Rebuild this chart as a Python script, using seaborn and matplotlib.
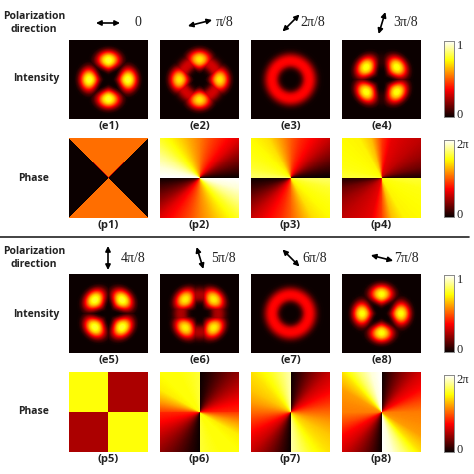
import numpy as np
import matplotlib
matplotlib.use("Agg")
import matplotlib.pyplot as plt
import seaborn as sns

sns.set_theme(style="white")
plt.rcParams['font.family'] = ['Open Sans', 'DejaVu Sans']

# ---- values ----
ring_r = [0, .1, .15, .2, .25, .3, .35, .4, .45, .5, .55, .6, .65, .7, .75, .8, .9, 1.5]
ring_v = [0, 0, .01, .05, .16, .40, .72, .93, 1, 1, .90, .68, .42, .20, .07, .02, 0, 0]
lobe_d = [0, .06, .12, .18, .24, .30, .36, .42, 3]
lobe_v = [1, .96, .82, .58, .32, .12, .02, 0, 0]
lobe_stretch = 1.2

# name: ring level, lobe peak, lobe radius, lobe angles
ring_level = dict(e1=.03, e2=.30, e3=.37, e4=.05, e5=.0, e6=.24, e7=.37, e8=.07)
lobe_peak = dict(e1=.80, e2=.72, e3=0, e4=.77, e5=.80, e6=.73, e7=0, e8=.76)
lobe_radius = dict(e1=.49, e2=.51, e3=.5, e4=.50, e5=.49, e6=.51, e7=.5, e8=.49)
lobe_angle = dict(e1=[0, 90, 180, 270], e2=[0, 90, 180, 270], e3=[0], e4=[39, 141, 219, 321],
                  e5=[45, 135, 225, 315], e6=[45, 135, 225, 315], e7=[0], e8=[0, 90, 180, 270])

phase_angles = [0, 15, 30, 45, 60, 75, 89.99, 90.01, 105, 120, 135, 150, 165, 180]
phases = {
    "p2": [0, .10, .20, .32, .40, .47, .55, .55, .62, .70, .78, .88, .96, 1],
    "p3": [0, .08, .18, .28, .36, .42, .50, .50, .60, .70, .74, .76, .79, .85],
    "p4": [.03, .15, .22, .27, .30, .33, .45, .45, .65, .73, .74, .75, .76, .80],
    "p5": [.24, .24, .24, .24, .24, .24, .24, .75, .75, .75, .75, .75, .75, .75],
    "p6": [.42, .36, .28, .20, .12, .05, 0, .80, .77, .75, .75, .72, .60, .45],
    "p7": [.52, .43, .35, .28, .18, .08, 0, .92, .84, .76, .70, .66, .60, .52],
    "p8": [.55, .47, .37, .30, .20, .10, 0, 1, .96, .85, .70, .60, .57, .55],
}
p1_angles = [0, 44.99, 45.01, 134.99, 135.01, 180]
p1_values = [0, 0, .53, .53, 0, 0]

arrow_tilt = [0, 14, 45, 73, 90, 107, 135, 166]
arrow_half = [12, 12.5, 12, 11.5, 12, 11.5, 12, 11.5]
angle_labels = ["0", "π/8", "2π/8", "3π/8", "4π/8", "5π/8", "6π/8", "7π/8"]
label_x = [138, 225, 313, 406, 133, 223, 315, 406]
arrow_x = [108, 200, 291, 382, 108, 200, 291, 382]

col_x = [69, 160, 251, 342]
row_y = [(40, 119), (138, 218), (274, 353), (372, 452)]
cbar_y = [(41, 117), (140, 217), (275, 352), (375, 452)]

W = H = 474
fig = plt.figure(figsize=(W / 100, H / 100), dpi=100, facecolor="white")


def box(x0, y0, x1, y1):
    return fig.add_axes([x0 / W, 1 - y1 / H, (x1 - x0) / W, (y1 - y0) / H])


n = 160
c = (np.arange(n) + .5) / n * 2 - 1
X, Y = np.meshgrid(c, -c)
R = np.hypot(X, Y)
TH360 = np.degrees(np.arctan2(Y, X)) % 360
TH = TH360 % 180


def intensity(name):
    out = ring_level[name] * np.interp(R, ring_r, ring_v)
    r0 = lobe_radius[name]
    for a in lobe_angle[name]:
        dth = (TH360 - a + 180) % 360 - 180
        d = np.hypot(R - r0, r0 * np.radians(dth) / lobe_stretch)
        out = np.maximum(out, lobe_peak[name] * np.interp(d, lobe_d, lobe_v))
    return out


def show(grid, ax, **kw):
    sns.heatmap(grid, ax=ax, cmap="hot", vmin=0, vmax=1, xticklabels=False,
                yticklabels=False, **kw)
    ax.set_xlabel("")
    ax.set_ylabel("")


for i in range(8):
    col = i % 4
    r = 0 if i < 4 else 2
    x0 = col_x[col]
    name = f"e{i + 1}"
    I = intensity(name)
    y0, y1 = row_y[r]
    ax = box(x0, y0, x0 + 79, y1)
    kw = {"cbar": False}
    if col == 3:
        kw = {"cbar": True, "cbar_ax": box(444, cbar_y[r][0], 454, cbar_y[r][1])}
    show(I, ax, **kw)
    if col == 3:
        cb = ax.collections[0].colorbar
        cb.set_ticks([.04, .95], labels=["0", "1"])
    pname = f"p{i + 1}"
    if pname == "p1":
        P = np.interp(TH, p1_angles, p1_values)
    else:
        P = np.interp(TH, phase_angles, phases[pname])
    y0p, y1p = row_y[r + 1]
    axp = box(x0, y0p, x0 + 79, y1p)
    kw = {"cbar": False}
    if col == 3:
        kw = {"cbar": True, "cbar_ax": box(444, cbar_y[r + 1][0], 454, cbar_y[r + 1][1])}
    show(P, axp, **kw)
    if col == 3:
        cb = axp.collections[0].colorbar
        cb.set_ticks([.05, .95], labels=["0", "2π"])

    # panel captions
    cx = x0 + 39.5
    fig.text(cx / W, 1 - (y1 + 7.5) / H, f"({name})", ha="center", va="center",
             fontsize=8, fontweight="bold", color="#222222")
    fig.text(cx / W, 1 - (y1p + 7.5) / H, f"({pname})", ha="center", va="center",
             fontsize=8, fontweight="bold", color="#222222")

    # polarization arrow and label
    ya = 23 if i < 4 else 258
    t = np.radians(arrow_tilt[i])
    dx, dy = arrow_half[i] * np.cos(t), arrow_half[i] * np.sin(t)
    fig.add_artist(matplotlib.patches.FancyArrowPatch(
        ((arrow_x[i] - dx) / W, 1 - (ya + dy) / H),
        ((arrow_x[i] + dx) / W, 1 - (ya - dy) / H),
        transform=fig.transFigure, arrowstyle="<|-|>", mutation_scale=7.5,
        lw=1.2, color="black", shrinkA=0, shrinkB=0))
    fig.text(label_x[i] / W, 1 - ya / H, angle_labels[i], ha="center", va="center",
             fontsize=10, family="Liberation Serif", color="#222222")

for cax in fig.axes:
    if cax.get_position().width < .03:
        cax.tick_params(length=0, pad=2, labelsize=9, labelcolor="#222222")
        for lab in cax.get_yticklabels():
            lab.set_family("Liberation Serif")
        for s in cax.spines.values():
            s.set_visible(True)
            s.set_linewidth(.6)
            s.set_edgecolor("#888888")

# row titles
for y_pol, y_int, y_pha in [(23, 79, 178), (258, 314, 412)]:
    fig.text(34 / W, 1 - y_pol / H, "Polarization\ndirection", ha="center", va="center",
             fontsize=7.5, fontweight="bold", color="#222222", linespacing=1.3)
    fig.text(36 / W, 1 - y_int / H, "Intensity", ha="center", va="center",
             fontsize=7.5, fontweight="bold", color="#222222")
    fig.text(34 / W, 1 - y_pha / H, "Phase", ha="center", va="center",
             fontsize=7.5, fontweight="bold", color="#222222")

fig.add_artist(plt.Line2D([0, 469 / W], [1 - 237 / H] * 2, color="#222222", lw=1.2,
                          transform=fig.transFigure))

fig.savefig("out.png", dpi=100, facecolor="white")
